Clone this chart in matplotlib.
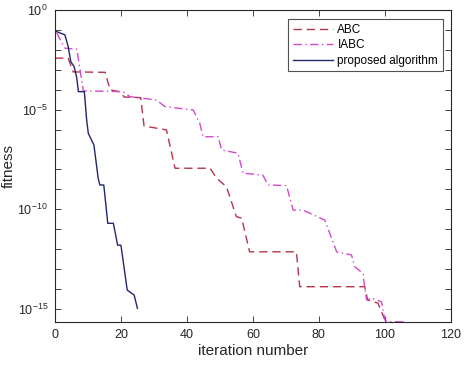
import matplotlib
matplotlib.use("Agg")
import matplotlib.pyplot as plt
import numpy as np
from matplotlib.ticker import FixedLocator, FuncFormatter, NullLocator

plt.rcParams['font.family'] = ['Liberation Sans', 'DejaVu Sans']
plt.rcParams['mathtext.fontset'] = 'custom'
plt.rcParams['mathtext.rm'] = 'Liberation Sans'
plt.rcParams['mathtext.it'] = 'Liberation Sans'
plt.rcParams['axes.unicode_minus'] = False

# ABC (iteration, log10 fitness)
abc_x = [0, 4, 5.5, 15.2, 16.7, 19.7, 21, 26, 27, 33.8, 36.4, 47, 49, 52, 55, 56.6, 59,
         73.2, 74.2, 93.9, 94.8, 97.9, 99.4, 100.3]
abc_logy = [-2.42, -2.42, -3.11, -3.13, -4.01, -4.11, -4.37, -4.40, -5.82, -6.02, -7.94,
            -7.94, -8.44, -8.87, -10.37, -10.44, -12.13, -12.13, -13.88, -13.88, -14.55,
            -14.70, -15.30, -15.64]

# IABC
iabc_x = [0.5, 3.0, 6.6, 7.6, 8.6, 20.7, 22.7, 30.8, 33.3, 41.9, 43.9, 44.9, 49.5, 50.5,
          55.5, 57, 63, 64.6, 70.2, 72.2, 75.2, 81.8, 83.3, 85.4, 89.9, 90.9, 93.4, 93.9,
          94.5, 96, 99, 100, 100.9, 106]
iabc_logy = [-1.15, -1.92, -1.97, -3.01, -4.06, -4.10, -4.35, -4.52, -4.85, -5.02, -5.69,
             -6.36, -6.36, -7.02, -7.19, -8.19, -8.28, -8.78, -8.81, -10.04, -10.04, -10.54,
             -11.2, -12.13, -12.29, -12.88, -13.21, -13.96, -14.55, -14.45, -14.64, -15.55,
             -15.64, -15.64]

# proposed algorithm
prop_x = [0.5, 3, 4, 4.8, 5.8, 6.6, 7.1, 8.9, 9.6, 10.1, 11.8, 13.1, 13.6, 14.8, 16, 17.7,
          19, 20, 21.9, 24, 25]
prop_logy = [-1.09, -1.25, -1.84, -2.6, -2.84, -3.41, -4.1, -4.1, -5.52, -6.19, -6.77,
             -8.45, -8.78, -8.78, -10.7, -10.7, -11.8, -11.8, -14.05, -14.3, -14.97]

labels = ['ABC', 'IABC', 'proposed algorithm']
x_ticks = [0, 20, 40, 60, 80, 100, 120]

fig = plt.figure(figsize=(4.74, 3.66), dpi=100)
ax = fig.add_axes([0.116, 0.120, 0.835, 0.853])

ax.plot(abc_x, 10.0 ** np.array(abc_logy), linestyle=(0, (6, 3.5)), color='#b5344a',
        lw=1.0, label=labels[0])
ax.plot(iabc_x, 10.0 ** np.array(iabc_logy), linestyle=(0, (6, 2.5, 1, 2.5)),
        color='#d548c8', lw=1.0, label=labels[1])
ax.plot(prop_x, 10.0 ** np.array(prop_logy), linestyle='-', color='#22266e', lw=1.0,
        label=labels[2])

ax.set_yscale('log')
ax.set_xlim(0, 120)
ax.set_ylim(2.2204e-16, 1)
ax.set_xticks(x_ticks)
ax.set_xticklabels([str(t) for t in x_ticks])

decades = [10.0 ** k for k in range(-15, 1)]
ax.yaxis.set_major_locator(FixedLocator(decades))
ax.yaxis.set_minor_locator(NullLocator())

def yfmt(v, pos):
    k = int(round(np.log10(v)))
    if k % 5 == 0:
        return r'$10^{%d}$' % k
    return ''

ax.yaxis.set_major_formatter(FuncFormatter(yfmt))
ax.tick_params(direction='in', which='both', top=True, right=True, length=4,
               width=0.6, labelsize=9, colors='#262626', pad=5)
for s in ax.spines.values():
    s.set_linewidth(0.8)
    s.set_color('#262626')

ax.set_xlabel('iteration number', fontsize=11, color='#262626', labelpad=2)
ax.set_ylabel('fitness', fontsize=11, color='#262626')
ax.yaxis.set_label_coords(-0.098, 0.5)

leg = ax.legend(loc='upper right', bbox_to_anchor=(0.98, 0.971), fontsize=8.5,
                frameon=True, fancybox=False, edgecolor='#262626', borderpad=0.4,
                labelspacing=0.3, handlelength=3.4, handletextpad=0.4, borderaxespad=0)
leg.get_frame().set_linewidth(0.8)

fig.savefig('out.png', dpi=100)
